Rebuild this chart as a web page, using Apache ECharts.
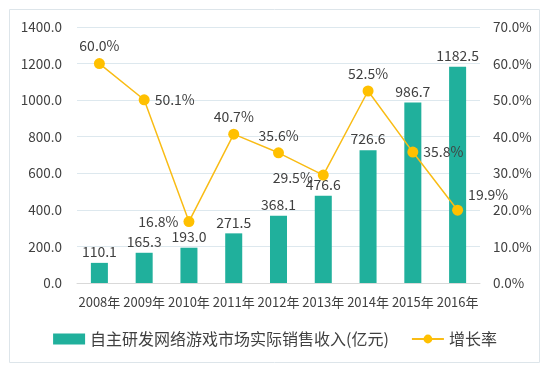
<!DOCTYPE html>
<html><head><meta charset="utf-8">
<script src="https://cdn.jsdelivr.net/npm/echarts@6/dist/echarts.min.js"></script>
<style>html,body{margin:0;padding:0;background:#fff}#c{width:550px;height:373px}</style>
</head><body><div id="c"></div>
<script>
const categories = ['2008年','2009年','2010年','2011年','2012年','2013年','2014年','2015年','2016年'];
const revenue = [110.1,165.3,193.0,271.5,368.1,476.6,726.6,986.7,1182.5];
const growth = [60.0,50.1,16.8,40.7,35.6,29.5,52.5,35.8,19.9];
const growthLabelPos = ['top','right','left','top','top','left','top','right','right'];
const growthLabelOffset = [[0,0],[0,0],[0,0],[0,0],[0,0],[0,3],[0,0],[0,0],[0,-16]];
const revName = '自主研发网络游戏市场实际销售收入(亿元)';
const growthName = '增长率';

const font = '"Noto Sans CJK SC", "Open Sans", sans-serif';
const txt = '#404040';
const chart = echarts.init(document.getElementById('c'));
chart.setOption({
  animation:false,
  textStyle:{fontFamily:font},
  graphic:[{type:'rect',shape:{x:9.5,y:9.5,width:530,height:353},style:{fill:'none',stroke:'#DDE5EA',lineWidth:1}}],
  grid:{left:77,right:70,top:27,bottom:90},
  legend:{
    top:326,left:'center',itemGap:22,itemWidth:32,itemHeight:11,
    textStyle:{fontSize:16,color:txt,fontFamily:font},
    data:[{name:revName,icon:'rect'},{name:growthName}]
  },
  xAxis:{type:'category',data:categories,
    axisLine:{show:true,lineStyle:{color:'#D9D9D9'}},axisTick:{show:false},
    axisLabel:{color:txt,fontSize:13,interval:0,margin:13}},
  yAxis:[
    {type:'value',min:0,max:1400,interval:200,
      axisLine:{show:false},axisTick:{show:false},
      splitLine:{lineStyle:{color:'#DDE8EE'}},
      axisLabel:{color:txt,fontSize:13.5,margin:15,formatter:v=>v.toFixed(1)}},
    {type:'value',min:0,max:70,interval:10,
      axisLine:{show:false},axisTick:{show:false},splitLine:{show:false},
      axisLabel:{color:txt,fontSize:13.5,margin:13,formatter:v=>v.toFixed(1)+'%'}}
  ],
  series:[
    {name:revName,type:'bar',data:revenue,barWidth:'38%',
      itemStyle:{color:'#20B09C'},
      label:{show:true,position:'top',color:txt,fontSize:14,distance:4,formatter:p=>p.value.toFixed(1)}},
    {name:growthName,type:'line',yAxisIndex:1,
      data:growth.map((v,i)=>({value:v,label:{position:growthLabelPos[i],offset:growthLabelOffset[i]}})),
      symbol:'circle',symbolSize:11,
      lineStyle:{color:'#F9BC15',width:1.5},itemStyle:{color:'#FFC000'},
      label:{show:true,color:txt,fontSize:14,distance:5,formatter:p=>p.value.toFixed(1)+'%'}}
  ]
});
</script></body></html>
